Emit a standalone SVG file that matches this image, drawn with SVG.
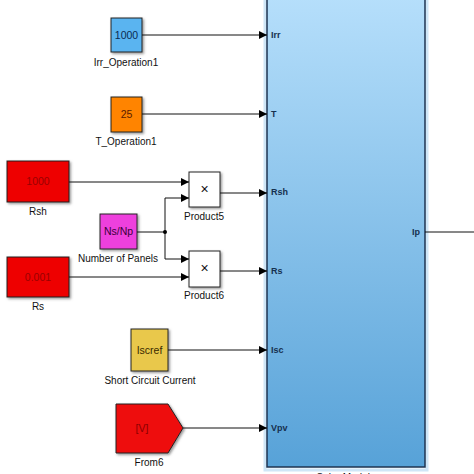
<svg xmlns="http://www.w3.org/2000/svg" width="474" height="474" viewBox="0 0 474 474">
<defs>
<linearGradient id="bg" x1="0" y1="0" x2="0" y2="1">
<stop offset="0" stop-color="#b6dffb"/>
<stop offset="1" stop-color="#57a2d8"/>
</linearGradient>
<marker id="arr" markerWidth="8" markerHeight="8" refX="8" refY="4" orient="auto" markerUnits="userSpaceOnUse">
<path d="M0,0 L8,4 L0,8 Z" fill="#000"/>
</marker>
<filter id="sh" x="-20%" y="-20%" width="150%" height="150%">
<feDropShadow dx="1.5" dy="1.5" stdDeviation="0.8" flood-color="#555" flood-opacity="0.6"/>
</filter>
</defs>
<style>
text{font-family:"Liberation Sans",Arial,sans-serif;}
.lbl{font-size:10px;fill:#111;text-anchor:middle;}
.val{font-size:10.5px;text-anchor:middle;}
.mul{font-size:14px;text-anchor:middle;fill:#111;}
.port{font-size:9px;fill:#16304f;font-weight:bold;}
.blk{stroke:#222;stroke-width:1;filter:url(#sh);}
.wire{stroke:#111;stroke-width:1;fill:none;}
.wa{stroke:#111;stroke-width:1;fill:none;marker-end:url(#arr);}
</style>
<rect width="474" height="474" fill="#fff"/>

<g id="solar_module">
<rect x="265" y="-6" width="162" height="476" fill="none" stroke="#cfe6f7" stroke-width="3"/>
<rect x="267" y="-5" width="158" height="472" fill="url(#bg)" stroke="#1d3352" stroke-width="1.5"/>
<text class="port" x="271" y="38">Irr</text>
<text class="port" x="271" y="117">T</text>
<text class="port" x="271" y="195">Rsh</text>
<text class="port" x="271" y="274">Rs</text>
<text class="port" x="271" y="353">Isc</text>
<text class="port" x="271" y="431">Vpv</text>
<text class="port" x="420" y="235" text-anchor="end">Ip</text>
<text class="lbl" x="346" y="481">Solar Module</text>
</g>

<g id="irr_operation1">
<rect class="blk" x="111" y="18" width="31" height="34" fill="#5ab4f0"/>
<text class="val" x="126.5" y="39" fill="#0a2a50">1000</text>
<text class="lbl" x="126" y="66">Irr_Operation1</text>
</g>

<g id="t_operation1">
<rect class="blk" x="111" y="97" width="31" height="35" fill="#ff8400"/>
<text class="val" x="126.5" y="118" fill="#5a2000">25</text>
<text class="lbl" x="126" y="145">T_Operation1</text>
</g>

<g id="rsh">
<rect class="blk" x="7" y="161" width="62" height="41" fill="#ee0000"/>
<text class="val" x="38" y="185" fill="#9a0000">1000</text>
<text class="lbl" x="38" y="215">Rsh</text>
</g>

<g id="number_of_panels">
<rect class="blk" x="100" y="214" width="37" height="35" fill="#ee3fdd"/>
<text class="val" x="118.5" y="235" fill="#3a0038">Ns/Np</text>
<text class="lbl" x="118" y="262">Number of Panels</text>
</g>

<g id="rs">
<rect class="blk" x="7" y="257" width="62" height="40" fill="#ee0000"/>
<text class="val" x="38" y="281" fill="#9a0000">0.001</text>
<text class="lbl" x="38" y="310">Rs</text>
</g>

<g id="product5">
<rect class="blk" x="189" y="172" width="31" height="35" fill="#fff"/>
<text class="mul" x="204.5" y="194">×</text>
<text class="lbl" x="204" y="220">Product5</text>
</g>

<g id="product6">
<rect class="blk" x="189" y="251" width="31" height="36" fill="#fff"/>
<text class="mul" x="204.5" y="273">×</text>
<text class="lbl" x="204" y="299">Product6</text>
</g>

<g id="short_circuit_current">
<rect class="blk" x="131" y="329" width="37" height="42" fill="#e9c84b"/>
<text class="val" x="149.5" y="354" fill="#3a2a00">Iscref</text>
<text class="lbl" x="150" y="384">Short Circuit Current</text>
</g>

<g id="from6">
<path class="blk" d="M116,404 L168,404 L183,428 L168,453 L116,453 Z" fill="#ee1111"/>
<text class="val" x="142" y="432" fill="#8a0000">[V]</text>
<text class="lbl" x="149" y="466">From6</text>
</g>

<g id="connectors">
<line class="wa" x1="142" y1="35" x2="267" y2="35"/>
<line class="wa" x1="142" y1="114" x2="267" y2="114"/>
<line class="wa" x1="69" y1="182" x2="189" y2="182"/>
<polyline class="wa" points="165,232 165,198 189,198"/>
<line class="wire" x1="137" y1="232" x2="165" y2="232"/>
<polyline class="wa" points="165,232 165,259 189,259"/>
<circle cx="165" cy="232" r="2" fill="#000"/>
<line class="wa" x1="69" y1="277" x2="189" y2="277"/>
<line class="wa" x1="220" y1="193" x2="267" y2="193"/>
<line class="wa" x1="220" y1="271" x2="267" y2="271"/>
<line class="wa" x1="168" y1="350" x2="267" y2="350"/>
<line class="wa" x1="183" y1="428" x2="267" y2="428"/>
<line class="wire" x1="425" y1="232" x2="474" y2="232"/>
</g>
</svg>
